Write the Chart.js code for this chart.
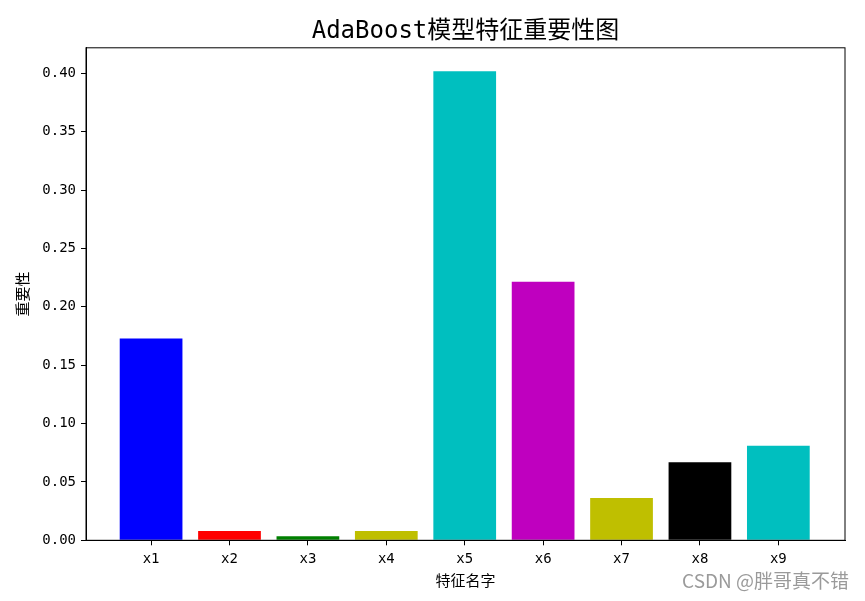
<!DOCTYPE html>
<html>
<head>
<meta charset="utf-8">
<script src="https://cdn.jsdelivr.net/npm/chart.js@4"></script>
<style>
  html, body { margin: 0; padding: 0; background: #fff; }
  #wrap { width: 865px; height: 601px; }
</style>
</head>
<body>
<div id="wrap"><canvas id="chart"></canvas></div>
<script>
const featureNames = ['x1', 'x2', 'x3', 'x4', 'x5', 'x6', 'x7', 'x8', 'x9'];
const importances = [0.1729, 0.0079, 0.0034, 0.0079, 0.4017, 0.2215, 0.0362, 0.0669, 0.0809];
const barColors = ['#0000ff', '#ff0000', '#008000', '#bfbf00', '#00bfbf', '#bf00bf', '#bfbf00', '#000000', '#00bfbf'];
const yTicks = [0, 0.05, 0.10, 0.15, 0.20, 0.25, 0.30, 0.35, 0.40];

const fontFamily = '"DejaVu Sans Mono", "Noto Sans CJK SC", sans-serif';
const cjkFamily = '"Noto Sans CJK SC", sans-serif';

// frame around the plot area plus the watermark
const framePlugin = {
    id: 'frame',
    afterDraw(chart) {
        const { ctx, chartArea: a } = chart;
        ctx.save();
        ctx.strokeStyle = '#000';
        ctx.lineWidth = 1;
        ctx.strokeRect(a.left, a.top, a.right - a.left, a.bottom - a.top);
        ctx.fillStyle = 'rgba(120,120,120,0.75)';
        ctx.font = '19px ' + cjkFamily;
        ctx.textAlign = 'right';
        ctx.textBaseline = 'middle';
        ctx.fillText('CSDN @胖哥真不错', 849, 581);
        ctx.restore();
    }
};

new Chart(document.getElementById('chart'), {
    type: 'bar',
    data: {
        datasets: [{
            data: importances.map((v, i) => ({ x: i, y: v })),
            backgroundColor: barColors,
            borderWidth: 0,
            categoryPercentage: 0.8,
            barPercentage: 1.0
        }]
    },
    options: {
        responsive: true,
        maintainAspectRatio: false,
        animation: false,
        layout: { padding: { left: 0, right: 20, top: 0, bottom: 8 } },
        plugins: {
            legend: { display: false },
            tooltip: { enabled: false },
            title: {
                display: true,
                fullSize: false,
                text: 'AdaBoost模型特征重要性图',
                color: '#000',
                font: { family: fontFamily, size: 24, weight: 'normal' },
                padding: { top: 17, bottom: 2 }
            }
        },
        scales: {
            x: {
                type: 'linear',
                min: -0.83,
                max: 8.85,
                offset: false,
                afterBuildTicks(scale) {
                    scale.ticks = featureNames.map((n, i) => ({ value: i }));
                },
                afterFit(scale) { scale.height = 52.7; },
                grid: { display: true, offset: false, drawOnChartArea: false, drawTicks: true, tickLength: 5, color: '#000' },
                border: { display: true, color: '#000' },
                ticks: {
                    color: '#000',
                    font: { family: fontFamily, size: 14 },
                    padding: 6,
                    maxRotation: 0,
                    callback: (v) => featureNames[v]
                },
                title: {
                    display: true,
                    text: '特征名字',
                    color: '#000',
                    font: { family: cjkFamily, size: 15 },
                    padding: { top: 0, bottom: 4 }
                }
            },
            y: {
                min: 0,
                max: 0.4218,
                afterBuildTicks(scale) {
                    scale.ticks = yTicks.map(v => ({ value: v }));
                },
                afterFit(scale) { scale.width = 86; },
                grid: { display: true, drawOnChartArea: false, drawTicks: true, tickLength: 5, color: '#000' },
                border: { display: true, color: '#000' },
                ticks: {
                    color: '#000',
                    font: { family: fontFamily, size: 14 },
                    padding: 5,
                    callback: (v) => v.toFixed(2)
                },
                title: {
                    display: true,
                    text: '重要性',
                    color: '#000',
                    font: { family: cjkFamily, size: 15 },
                    padding: { top: 13, bottom: 0 }
                }
            }
        }
    },
    plugins: [framePlugin]
});
</script>
</body>
</html>
